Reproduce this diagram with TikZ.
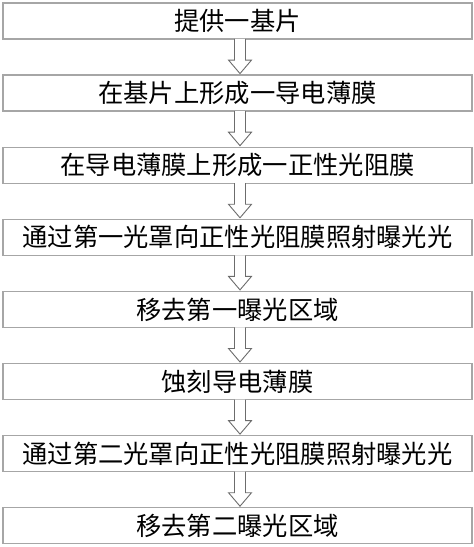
\documentclass[tikz,border=0pt]{standalone}
\usepackage{tikz}
\usepackage{fontspec}
\newfontfamily\cjk{Noto Sans CJK SC}
\usetikzlibrary{positioning, calc}

\begin{document}
\begin{tikzpicture}[x=1bp, y=1bp, node distance=36.1bp]
    % Styles
    \tikzstyle{stepbox} = [rectangle, draw=gray!70, line width=1.2bp, minimum width=469bp, minimum height=36bp, inner sep=0pt, outer sep=0pt, font=\cjk\fontsize{25.3bp}{28bp}\selectfont]
    \tikzstyle{hollow} = [draw=gray!85!black, line width=0.9bp, fill=white, line join=miter]
    \useasboundingbox (0,0) rectangle (474,547);

    % Steps
    \node[stepbox] (s1) at (237.5,526) {提供一基片};
    \node[stepbox, below=of s1] (s2) {在基片上形成一导电薄膜};
    \node[stepbox, below=of s2] (s3) {在导电薄膜上形成一正性光阻膜};
    \node[stepbox, below=of s3] (s4) {通过第一光罩向正性光阻膜照射曝光光};
    \node[stepbox, below=of s4] (s5) {移去第一曝光区域};
    \node[stepbox, below=of s5] (s6) {蚀刻导电薄膜};
    \node[stepbox, below=of s6] (s7) {通过第二光罩向正性光阻膜照射曝光光};
    \node[stepbox, below=of s7] (s8) {移去第二曝光区域};

    % Arrows
    \foreach \a/\b in {s1/s2, s2/s3, s3/s4, s4/s5, s5/s6, s6/s7, s7/s8}
        \draw[hollow] ($(\a.south)+(-3,0)$) -- ($(\b.north)+(-3,15)$) -- ($(\b.north)+(-9,15)$)
            -- ($(\b.north)+(2.5,1.5)$) -- ($(\b.north)+(14,15)$) -- ($(\b.north)+(8,15)$)
            -- ($(\a.south)+(8,0)$);
\end{tikzpicture}
\end{document}
